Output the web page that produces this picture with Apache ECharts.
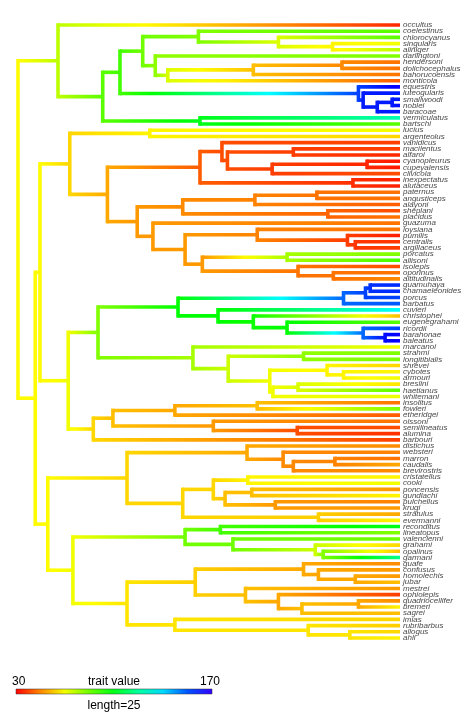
<!DOCTYPE html>
<html>
<head>
<meta charset="utf-8">
<script src="https://cdn.jsdelivr.net/npm/echarts@6/dist/echarts.min.js"></script>
<style>
  html, body { margin: 0; padding: 0; background: #fff; }
  #chart { width: 474px; height: 722px; }
</style>
</head>
<body>
<div id="chart"></div>
<script>
// tips, top to bottom
const tipNames = [
  'occultus', 'coelestinus', 'chlorocyanus', 'singularis', 'aliniger', 'darlingtoni', 'hendersoni',
  'dolichocephalus', 'bahorucoensis', 'monticola', 'equestris', 'luteogularis', 'smallwoodi', 'noblei',
  'baracoae', 'vermiculatus', 'bartschi', 'lucius', 'argenteolus', 'vanidicus', 'macilentus', 'alfaroi',
  'cyanopleurus', 'cupeyalensis', 'clivicola', 'inexpectatus', 'alutaceus', 'paternus', 'angusticeps',
  'alayoni', 'sheplani', 'placidus', 'guazuma', 'loysiana', 'pumilis', 'centralis', 'argillaceus',
  'porcatus', 'allisoni', 'isolepis', 'oporinus', 'altitudinalis', 'guamuhaya', 'chamaeleonides',
  'porcus', 'barbatus', 'cuvieri', 'christophei', 'eugenegrahami', 'ricordii', 'barahonae', 'baleatus',
  'marcanoi', 'strahmi', 'longitibialis', 'shrevei', 'cybotes', 'armouri', 'breslini', 'haetianus',
  'whitemani', 'insolitus', 'fowleri', 'etheridgei', 'olssoni', 'semilineatus', 'alumina', 'barbouri',
  'distichus', 'websteri', 'marron', 'caudalis', 'brevirostris', 'cristatellus', 'cooki', 'poncensis',
  'gundlachi', 'pulchellus', 'krugi', 'stratulus', 'evermanni', 'reconditus', 'lineatopus', 'valencienni',
  'grahami', 'opalinus', 'garmani', 'guafe', 'confusus', 'homolechis', 'jubar', 'mestrei', 'ophiolepis',
  'quadriocellifer', 'bremeri', 'sagrei', 'imias', 'rubribarbus', 'allogus', 'ahli'
];
const tipValues = [
  35, 85, 85, 65, 72, 80, 45, 45, 45, 42, 165, 160, 160, 162, 160, 120, 85, 65, 58, 38, 38, 35,
  33, 33, 40, 34, 34, 45, 45, 42, 40, 45, 45, 45, 34, 37, 38, 80, 88, 40, 45, 48, 158, 158,
  155, 152, 130, 55, 85, 155, 165, 165, 65, 80, 80, 58, 62, 65, 60, 85, 66, 45, 80, 42,
  45, 40, 36, 38, 48, 47, 45, 52, 48, 62, 65, 50, 62, 47, 50, 52, 62, 100, 80, 82,
  58, 55, 115, 48, 50, 50, 55, 50, 38, 48, 62, 55, 58, 57, 58, 62
];
const treeHeight = 48.7;
// internal node labels are height_value
const treeNewick =
  '((occultus,((((coelestinus,(chlorocyanus,(singularis,aliniger)40.1_62)33.2_68)23.0_80,' +
  '(darlingtoni,(((hendersoni,dolichocephalus)41.3_48,bahorucoensis)30.0_55,monticola)19.1_68)17.5_78)15.9_82,' +
  '(equestris,(luteogularis,((smallwoodi,noblei)47.7_160,baracoae)45.8_160)44.0_160)43.4_155)13.0_88,' +
  '(vermiculatus,bartschi)23.2_100)10.8_85)5.1_72,' +
  '((((lucius,argenteolus)16.8_62,' +
  '(((vanidicus,((macilentus,alfaroi)35.1_38,((cyanopleurus,cupeyalensis)44.5_35,clivicola)32.4_38)26.7_40)26.0_40,(inexpectatus,alutaceus)42.7_36)23.2_42,' +
  '((((paternus,angusticeps)38.1_45,alayoni)30.2_47,(sheplani,placidus)39.5_43)21.0_48,' +
  '(guazuma,((loysiana,(pumilis,(centralis,argillaceus)43.0_37)42.0_38)30.5_47,((porcatus,allisoni)34.3_75,(isolepis,(oporinus,altitudinalis)40.2_45)35.7_45)23.5_50)21.3_50)17.2_50)15.2_50)11.4_52)6.6_58,' +
  '((((((guamuhaya,chamaeleonides)44.9_157,porcus)44.3_155,barbatus)41.5_150,(cuvieri,(christophei,(eugenegrahami,(ricordii,(barahonae,baleatus)46.8_162)44.0_150)34.3_97)30.0_95)25.5_97)20.4_97,' +
  '(marcanoi,((strahmi,longitibialis)36.4_78,((shrevei,(cybotes,armouri)41.5_62)39.4_62,((breslini,haetianus)35.7_68,whitemani)32.5_65)32.1_65)26.8_70)22.3_75)10.2_80,' +
  '((((insolitus,fowleri)30.5_55,etheridgei)20.0_52,(olssoni,(semilineatus,alumina)35.6_40)24.9_50)12.1_55,barbouri)9.6_58)6.4_65)2.8_63,' +
  '(((distichus,(websteri,((marron,caudalis)40.4_47,brevirostris)35.1_48)33.8_48)29.2_52,' +
  '(((cristatellus,cooki)29.3_62,((poncensis,gundlachi)29.8_55,(pulchellus,krugi)32.8_50)26.4_55)24.9_58,(stratulus,evermanni)38.3_57)21.0_58)13.9_58,' +
  '(((reconditus,lineatopus)25.8_88,(valencienni,(grahami,(opalinus,garmani)38.9_80)37.9_70)27.4_82)21.3_82,' +
  '(((guafe,(confusus,(homolechis,jubar)43.0_52)38.3_52)36.4_52,(mestrei,(ophiolepis,((quadriocellifer,bremeri)43.4_52,sagrei)36.2_55)33.2_52)29.0_55)22.6_57,' +
  '(imias,(rubribarbus,(allogus,ahli)42.3_60)37.0_60)20.0_60)13.9_60)7.0_65)3.8_63)2.2_63)0_63';
const traitRange = [30, 170];
const scaleLength = 25;

// rainbow like phytools: hue 0 .. 0.7
function traitColor(v) {
  if (!isFinite(v)) v = 63;
  const t = Math.max(0, Math.min(1, (v - traitRange[0]) / (traitRange[1] - traitRange[0])));
  const h = t * 0.7 * 6;
  const i = Math.min(5, Math.floor(h)), f = h - Math.floor(h);
  const table = [[1, f, 0], [1 - f, 1, 0], [0, 1, f], [0, 1 - f, 1], [f, 0, 1], [1, 0, 1 - f]];
  const r = table[i];
  return 'rgb(' + r.map(x => Math.round(x * 255)).join(',') + ')';
}
function gradientStops(v0, v1) {
  const stops = [];
  for (let k = 0; k <= 8; k++) stops.push({ offset: k / 8, color: traitColor(v0 + (v1 - v0) * k / 8) });
  return stops;
}

// parse newick
function parseTree(s) {
  let pos = 0;
  function node() {
    const n = { children: [] };
    if (s[pos] === '(') {
      pos++;
      n.children.push(node());
      while (s[pos] === ',') { pos++; n.children.push(node()); }
      pos++; // ')'
    }
    let lab = '';
    while (pos < s.length && ',()'.indexOf(s[pos]) < 0) lab += s[pos++];
    if (n.children.length) {
      const p = lab.split('_');
      n.h = +p[0]; n.v = +p[1];
      n.y = (n.children[0].y + n.children[n.children.length - 1].y) / 2;
    } else {
      const idx = tipNames.indexOf(lab);
      n.name = lab; n.h = treeHeight; n.v = tipValues[idx]; n.y = idx;
    }
    return n;
  }
  return node();
}
const root = parseTree(treeNewick);

const horiz = [];
const vert = [];
(function walk(n) {
  if (!n.children.length) return;
  const c0 = n.children[0], c1 = n.children[n.children.length - 1];
  vert.push([n.h, n.h, c0.y, c1.y, n.v, n.v]);
  n.children.forEach(c => {
    horiz.push([n.h, c.h, c.y, c.y, n.v, c.v]);
    walk(c);
  });
})(root);

const LW = 3.6;
function renderBranch(params, api) {
  const p0 = api.coord([api.value(0), api.value(2)]);
  const p1 = api.coord([api.value(1), api.value(3)]);
  const v0 = api.value(4), v1 = api.value(5);
  if (p0[1] === p1[1]) {
    return {
      type: 'line',
      shape: { x1: p0[0], y1: p0[1], x2: p1[0], y2: p1[1] },
      style: {
        stroke: new echarts.graphic.LinearGradient(p0[0], 0, p1[0] + 0.01, 0, gradientStops(v0, v1), true),
        lineWidth: LW, lineCap: 'butt'
      }
    };
  }
  return {
    type: 'line',
    shape: { x1: p0[0], y1: p0[1] - LW / 2, x2: p1[0], y2: p1[1] + LW / 2 },
    style: { stroke: traitColor(v0), lineWidth: LW, lineCap: 'butt' }
  };
}

const tipPoints = tipNames.map((name, i) => ({ value: [treeHeight, i], name: name }));

const chart = echarts.init(document.getElementById('chart'));
const barLeft = 16, barWidth = 196;
chart.setOption({
  animation: false,
  grid: { left: 18, top: 25, width: 382, height: 613 },
  xAxis: { type: 'value', min: 0, max: treeHeight, show: false },
  yAxis: { type: 'value', min: 0, max: tipNames.length - 1, inverse: true, show: false },
  series: [
    {
      type: 'custom', renderItem: renderBranch, data: vert,
      encode: { x: [0, 1], y: [2, 3] }, silent: true, clip: false
    },
    {
      type: 'custom', renderItem: renderBranch, data: horiz,
      encode: { x: [0, 1], y: [2, 3] }, silent: true, clip: false
    },
    {
      type: 'scatter', data: tipPoints, symbolSize: 0, silent: true,
      label: {
        show: true, position: 'right', distance: 3,
        formatter: p => p.name,
        fontFamily: 'Liberation Sans', fontStyle: 'italic', fontSize: 8, color: '#111'
      }
    }
  ],
  graphic: [
    { type: 'text', left: 12, top: 676, style: { text: String(traitRange[0]), font: '12px "Liberation Sans"', fill: '#000' } },
    { type: 'text', left: 200, top: 676, style: { text: String(traitRange[1]), font: '12px "Liberation Sans"', fill: '#000' } },
    { type: 'text', x: barLeft + barWidth / 2, y: 676, style: { text: 'trait value', font: '12px "Liberation Sans"', fill: '#000', align: 'center' } },
    {
      type: 'rect', shape: { x: barLeft, y: 689, width: barWidth, height: 5 },
      style: { fill: new echarts.graphic.LinearGradient(0, 0, 1, 0, gradientStops(traitRange[0], traitRange[1])), stroke: '#333', lineWidth: 0.5 }
    },
    { type: 'text', x: barLeft + barWidth / 2, y: 700, style: { text: 'length=' + scaleLength, font: '12px "Liberation Sans"', fill: '#000', align: 'center' } }
  ]
});
</script>
</body>
</html>
